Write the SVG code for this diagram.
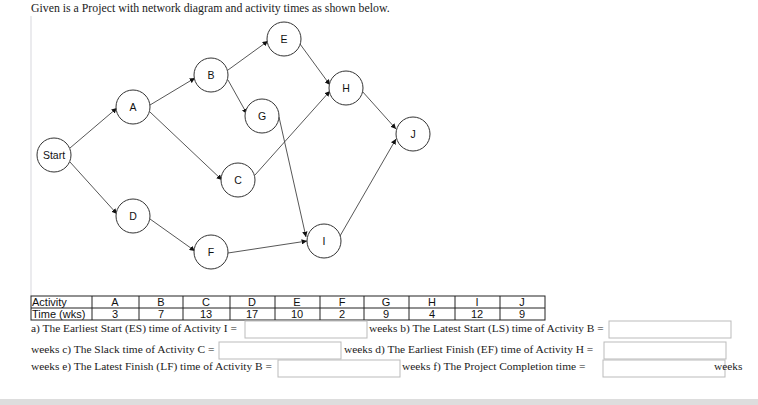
<svg xmlns="http://www.w3.org/2000/svg" width="758" height="405" viewBox="0 0 758 405">
<style>
.n circle{fill:#fff;stroke:#333;stroke-width:1}
.n text{font-family:"Liberation Sans",Arial,sans-serif;font-size:10.5px;text-anchor:middle;fill:#111}
.e line{stroke:#444;stroke-width:0.9;marker-end:url(#ah)}
.s{font-family:"Liberation Serif","Times New Roman",serif;font-size:11.4px;fill:#222}
.t{font-family:"Liberation Sans",Arial,sans-serif;font-size:11px;fill:#111;text-anchor:middle}
.b{fill:#fff;stroke:#bbb;stroke-width:1}
</style>
<defs><marker id="ah" viewBox="0 0 10 10" refX="10" refY="5" markerWidth="6" markerHeight="6" orient="auto"><path d="M0,0 L10,5 L0,10 z" fill="#111"/></marker></defs>
<rect width="758" height="405" fill="#fff"/>
<text x="31" y="12" class="s" style="font-size:11.8px">Given is a Project with network diagram and activity times as shown below.</text>
<line x1="31" y1="16" x2="31" y2="296" stroke="#e4e4e8" stroke-width="1.5"/>
<g class="e">
<line x1="70" y1="148" x2="117" y2="108"/>
<line x1="70" y1="162" x2="117" y2="214"/>
<line x1="150" y1="105" x2="195" y2="78"/>
<line x1="150" y1="112" x2="222" y2="180"/>
<line x1="228" y1="70" x2="268" y2="41"/>
<line x1="228" y1="80" x2="247" y2="114"/>
<line x1="300" y1="44" x2="330" y2="85"/>
<line x1="255" y1="175" x2="330" y2="91"/>
<line x1="279" y1="117" x2="306" y2="237"/>
<line x1="150" y1="219" x2="195" y2="251"/>
<line x1="228" y1="253" x2="307" y2="241"/>
<line x1="362" y1="91" x2="396" y2="129"/>
<line x1="340" y1="236" x2="396" y2="139"/>
</g>
<g id="start" class="n"><circle cx="54" cy="155" r="17"/><text x="54" y="159">Start</text></g>
<g id="A" class="n"><circle cx="133" cy="107" r="17"/><text x="133" y="111">A</text></g>
<g id="B" class="n"><circle cx="211" cy="75" r="17"/><text x="211" y="79">B</text></g>
<g id="E" class="n"><circle cx="284" cy="39" r="17"/><text x="284" y="43">E</text></g>
<g id="G" class="n"><circle cx="262" cy="116" r="17"/><text x="262" y="120">G</text></g>
<g id="H" class="n"><circle cx="346" cy="88" r="17"/><text x="346" y="92">H</text></g>
<g id="C" class="n"><circle cx="238" cy="180" r="17"/><text x="238" y="184">C</text></g>
<g id="J" class="n"><circle cx="413" cy="134" r="17"/><text x="413" y="138">J</text></g>
<g id="D" class="n"><circle cx="133" cy="216" r="17"/><text x="133" y="220">D</text></g>
<g id="F" class="n"><circle cx="211" cy="252" r="17"/><text x="211" y="256">F</text></g>
<g id="I" class="n"><circle cx="324" cy="241" r="17"/><text x="324" y="245">I</text></g>
<g id="table">
<rect x="31" y="296" width="514" height="24" fill="#fff" stroke="#222" stroke-width="1"/>
<line x1="31" y1="308" x2="545" y2="308" stroke="#222"/>
<g stroke="#222">
<line x1="92" y1="296" x2="92" y2="320"/><line x1="139" y1="296" x2="139" y2="320"/><line x1="183" y1="296" x2="183" y2="320"/><line x1="230" y1="296" x2="230" y2="320"/><line x1="275" y1="296" x2="275" y2="320"/><line x1="320" y1="296" x2="320" y2="320"/><line x1="364" y1="296" x2="364" y2="320"/><line x1="409" y1="296" x2="409" y2="320"/><line x1="455" y1="296" x2="455" y2="320"/><line x1="500" y1="296" x2="500" y2="320"/>
</g>
<text x="32" y="306" class="t" style="text-anchor:start">Activity</text>
<text x="32" y="318" class="t" style="text-anchor:start">Time (wks)</text>
<text x="115" y="306" class="t">A</text><text x="161" y="306" class="t">B</text><text x="206" y="306" class="t">C</text><text x="252" y="306" class="t">D</text><text x="297" y="306" class="t">E</text><text x="342" y="306" class="t">F</text><text x="386" y="306" class="t">G</text><text x="432" y="306" class="t">H</text><text x="477" y="306" class="t">I</text><text x="522" y="306" class="t">J</text>
<text x="115" y="318" class="t">3</text><text x="161" y="318" class="t">7</text><text x="206" y="318" class="t">13</text><text x="252" y="318" class="t">17</text><text x="297" y="318" class="t">10</text><text x="342" y="318" class="t">2</text><text x="386" y="318" class="t">9</text><text x="432" y="318" class="t">4</text><text x="477" y="318" class="t">12</text><text x="522" y="318" class="t">9</text>
</g>
<g id="questions">
<text x="31" y="332" class="s">a) The Earliest Start (ES) time of Activity I =</text>
<rect x="245" y="321" width="122" height="17" class="b"/>
<text x="369" y="332" class="s">weeks b) The Latest Start (LS) time of Activity B =</text>
<rect x="609" y="321" width="122" height="17" class="b"/>
<text x="31" y="353" class="s">weeks c) The Slack time of Activity C =</text>
<rect x="219" y="342" width="122" height="17" class="b"/>
<text x="344" y="353" class="s">weeks d) The Earliest Finish (EF) time of Activity H =</text>
<rect x="604" y="342" width="122" height="17" class="b"/>
<text x="31" y="370" class="s">weeks e) The Latest Finish (LF) time of Activity B =</text>
<rect x="278" y="360" width="122" height="17" class="b"/>
<text x="402" y="370" class="s">weeks f) The Project Completion time =</text>
<rect x="603" y="360" width="122" height="17" class="b"/>
<text x="714" y="370" class="s">weeks</text>
</g>
<rect x="0" y="399" width="758" height="6" fill="#ddd"/>
</svg>
